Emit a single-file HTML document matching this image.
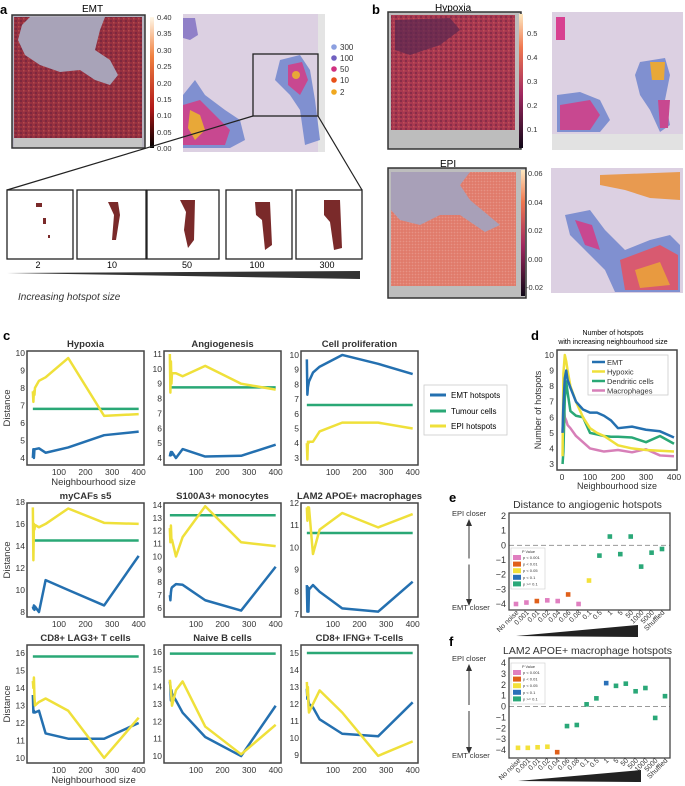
<!DOCTYPE html>
<html><head><meta charset="utf-8"><style>
html,body{margin:0;padding:0;background:#fff;}
svg{display:block;font-family:"Liberation Sans",Arial,sans-serif;}
</style></head><body>
<svg id="fig" width="685" height="786" viewBox="0 0 685 786" xmlns="http://www.w3.org/2000/svg">
<defs>
<pattern id="spots" width="3" height="3" patternUnits="userSpaceOnUse"><circle cx="1.5" cy="1.5" r="0.9" fill="#fff" opacity="0.18"/></pattern>
<pattern id="dk" width="5" height="4" patternUnits="userSpaceOnUse"><rect x="0" y="0" width="2" height="2" fill="#4a1a3a" opacity="0.35"/><rect x="3" y="2" width="1.5" height="1.5" fill="#f08060" opacity="0.35"/></pattern>
<linearGradient id="cbA" x1="0" y1="1" x2="0" y2="0"><stop offset="0" stop-color="#000"/><stop offset="0.3" stop-color="#b01818"/><stop offset="0.7" stop-color="#f08040"/><stop offset="1" stop-color="#fff8e8"/></linearGradient>
<linearGradient id="cbB" x1="0" y1="1" x2="0" y2="0"><stop offset="0" stop-color="#100818"/><stop offset="0.4" stop-color="#a02860"/><stop offset="0.75" stop-color="#f07850"/><stop offset="1" stop-color="#fde8c0"/></linearGradient>
</defs>

<!-- Panel a -->
<text x="0" y="14" font-size="13" font-weight="bold">a</text>
<text x="82" y="12" font-size="10">EMT</text>
<g>
<rect x="12" y="15" width="133" height="133" fill="#b7b4c0"/>
<rect x="14" y="17" width="128" height="121" fill="#963040"/>
<rect x="14" y="17" width="128" height="121" fill="url(#dk)"/>
<path d="M30 17 L105 17 L100 30 L95 50 L110 60 L118 75 L110 85 L95 80 L80 70 L60 72 L40 65 L25 55 L18 40 L22 25 Z" fill="#a8a3b8"/>
<rect x="14" y="138" width="128" height="10" fill="#c4c4c4"/>
<rect x="12" y="15" width="133" height="133" fill="none" stroke="#333" stroke-width="1.5"/>
</g>
<rect x="150" y="17" width="4" height="131" fill="url(#cbA)"/>
<g font-size="7.5" fill="#333">
<text x="157" y="20">0.40</text><text x="157" y="36">0.35</text><text x="157" y="53">0.30</text><text x="157" y="69">0.25</text><text x="157" y="86">0.20</text><text x="157" y="102">0.15</text><text x="157" y="118">0.10</text><text x="157" y="135">0.05</text><text x="157" y="151">0.00</text>
</g>
<g>
<rect x="183" y="14" width="142" height="138" fill="#dcd0e2"/>
<rect x="318" y="14" width="7" height="138" fill="#e4e4e4"/>
<path d="M183 95 L195 80 L205 95 L225 110 L240 120 L245 140 L230 148 L183 148 Z" fill="#8090d0"/>
<path d="M183 105 L200 100 L215 115 L230 130 L225 145 L183 145 Z" fill="#c84890"/>
<path d="M190 110 L200 115 L205 130 L195 140 L188 128 Z" fill="#e8a838"/>
<path d="M280 60 L300 55 L310 70 L315 100 L320 140 L305 145 L300 110 L290 95 L275 80 Z" fill="#8090d0"/>
<path d="M288 65 L302 62 L308 80 L300 95 L288 85 Z" fill="#c84890"/>
<circle cx="296" cy="75" r="4" fill="#e8a838"/>
<path d="M183 18 L195 18 L198 35 L190 40 L183 38 Z" fill="#9080c8"/>
</g>
<g font-size="8" fill="#333">
<circle cx="334" cy="47" r="2.8" fill="#8ca0e0"/><text x="340" y="50">300</text>
<circle cx="334" cy="58" r="2.8" fill="#7060c0"/><text x="340" y="61">100</text>
<circle cx="334" cy="69" r="2.8" fill="#d03080"/><text x="340" y="72">50</text>
<circle cx="334" cy="80" r="2.8" fill="#e85018"/><text x="340" y="83">10</text>
<circle cx="334" cy="92" r="2.8" fill="#f0a820"/><text x="340" y="95">2</text>
</g>
<rect x="253" y="54" width="65" height="62" fill="none" stroke="#222" stroke-width="1.3"/>
<line x1="253" y1="116" x2="7" y2="190" stroke="#222" stroke-width="1.2"/>
<line x1="318" y1="116" x2="362" y2="190" stroke="#222" stroke-width="1.2"/>
<g fill="#fff" stroke="#222" stroke-width="1.3">
<rect x="7" y="190" width="66" height="69"/><rect x="77" y="190" width="69" height="69"/><rect x="147" y="190" width="72" height="69"/><rect x="226" y="190" width="66" height="69"/><rect x="296" y="190" width="66" height="69"/>
</g>
<g fill="#7a2a2a">
<rect x="36" y="203" width="6" height="4"/><rect x="43" y="218" width="3" height="6"/><rect x="48" y="235" width="2" height="3"/>
<path d="M108 202 L118 202 L120 215 L116 240 L112 240 L114 215 Z"/>
<path d="M180 200 L195 200 L194 240 L188 248 L184 230 L186 212 Z"/>
<path d="M255 202 L270 202 L272 245 L265 250 L262 220 L256 215 Z"/>
<path d="M324 200 L340 200 L342 248 L334 250 L330 222 L324 215 Z"/>
</g>
<g font-size="9" text-anchor="middle">
<text x="38" y="268">2</text><text x="112" y="268">10</text><text x="187" y="268">50</text><text x="257" y="268">100</text><text x="327" y="268">300</text>
</g>
<path d="M7 273 L360 271 L360 279 Z" fill="#333"/>
<text x="18" y="300" font-size="10" font-style="italic" fill="#333">Increasing hotspot size</text>

<!-- Panel b -->
<text x="372" y="14" font-size="13" font-weight="bold">b</text>
<text x="435" y="11" font-size="10">Hypoxia</text>
<g>
<rect x="388" y="12" width="133" height="137" fill="#bdbdbd"/>
<rect x="391" y="15" width="124" height="115" fill="#a83850"/>
<rect x="391" y="15" width="124" height="115" fill="url(#dk)"/>
<path d="M395 20 L450 18 L460 30 L440 45 L410 55 L395 50 Z" fill="#5a2850" opacity="0.7"/>
<rect x="388" y="12" width="133" height="137" fill="none" stroke="#333" stroke-width="1.5"/>
</g>
<rect x="519" y="14" width="4" height="134" fill="url(#cbB)"/>
<g font-size="7.5" fill="#333">
<text x="527" y="36">0.5</text><text x="527" y="60">0.4</text><text x="527" y="84">0.3</text><text x="527" y="108">0.2</text><text x="527" y="132">0.1</text>
</g>
<g>
<rect x="552" y="12" width="131" height="138" fill="#dcd0e2"/>
<rect x="552" y="134" width="131" height="16" fill="#e2e2e2"/>
<path d="M557 95 L580 92 L600 100 L610 120 L600 132 L557 132 Z" fill="#8090d0"/>
<path d="M560 105 L590 100 L600 115 L590 130 L560 130 Z" fill="#c84890"/>
<path d="M640 62 L665 58 L670 75 L665 100 L670 125 L660 132 L650 110 L640 95 L635 75 Z" fill="#8090d0"/>
<path d="M650 62 L665 62 L664 80 L652 80 Z" fill="#e8a838"/>
<path d="M658 100 L670 100 L668 128 L660 128 Z" fill="#c84890"/>
<path d="M556 17 L565 17 L565 40 L556 40 Z" fill="#d84090"/>
</g>
<text x="440" y="167" font-size="10">EPI</text>
<g>
<rect x="388" y="168" width="138" height="130" fill="#bdbdbd"/>
<rect x="391" y="172" width="125" height="114" fill="#e07a6a"/>
<rect x="391" y="172" width="125" height="114" fill="url(#spots)"/>
<path d="M391 172 L470 172 L460 185 L470 200 L500 225 L485 232 L460 215 L440 215 L420 225 L400 220 L391 210 Z" fill="#a8a0b8"/>
<rect x="388" y="168" width="138" height="130" fill="none" stroke="#333" stroke-width="1.5"/>
</g>
<rect x="521" y="170" width="4" height="126" fill="url(#cbB)"/>
<g font-size="7.5" fill="#333">
<text x="528" y="176">0.06</text><text x="528" y="205">0.04</text><text x="528" y="233">0.02</text><text x="528" y="262">0.00</text><text x="526" y="290">-0.02</text>
</g>
<g>
<rect x="551" y="168" width="132" height="125" fill="#dcd0e2"/>
<path d="M600 175 L680 172 L680 200 L650 198 L625 190 L600 185 Z" fill="#e89a50"/>
<path d="M565 215 L590 210 L605 230 L625 250 L650 240 L670 235 L680 245 L680 292 L615 292 L605 270 L585 250 L570 235 Z" fill="#8090d0"/>
<path d="M575 220 L592 225 L600 250 L585 245 Z" fill="#c84890"/>
<path d="M620 260 L660 245 L678 255 L678 290 L625 290 Z" fill="#d85a70"/>
<path d="M635 270 L660 262 L670 285 L640 288 Z" fill="#e89a40"/>
</g>

<!-- Panel c text & legend -->
<text x="3" y="340" font-size="13" font-weight="bold">c</text>
<g>
<rect x="424" y="385" width="83" height="50" fill="#fff" stroke="#ccc" stroke-width="0.8"/>
<line x1="430" y1="395" x2="446" y2="395" stroke="#2470b0" stroke-width="3"/><text x="451" y="398" font-size="8">EMT hotspots</text>
<line x1="430" y1="411" x2="446" y2="411" stroke="#2aa876" stroke-width="3"/><text x="451" y="414" font-size="8">Tumour cells</text>
<line x1="430" y1="426" x2="446" y2="426" stroke="#efe03a" stroke-width="3"/><text x="451" y="429" font-size="8">EPI hotspots</text>
</g>

<!-- Panel d static -->
<text x="531" y="340" font-size="13" font-weight="bold">d</text>
<text x="613" y="335" font-size="7" text-anchor="middle">Number of hotspots</text>
<text x="613" y="344" font-size="7" text-anchor="middle">with increasing neighbourhood size</text>

<text x="449" y="502" font-size="13" font-weight="bold">e</text>
<text x="449" y="646" font-size="13" font-weight="bold">f</text>
<g id="root"></g>
</svg>
<script>
// ---------- Panel c data ----------
const nbhSizes = [2, 4, 6, 8, 10, 25, 50, 135, 270, 400];
const cTitles = ["Hypoxia","Angiogenesis","Cell proliferation","myCAFs s5","S100A3+ monocytes","LAM2 APOE+ macrophages","CD8+ LAG3+ T cells","Naive B cells","CD8+ IFNG+ T-cells"];
const emtHotspots = [
 [4.0,4.5,4.0,4.5,4.5,4.55,4.3,4.6,5.3,5.5],
 [4.1,4.3,4.4,4.2,4.4,4.0,4.6,4.1,4.15,4.9],
 [9.7,7.3,7.8,8.0,8.2,8.8,9.2,10.0,9.4,8.7],
 [8.5,8.3,8.6,8.2,8.5,8.0,10.9,10.0,8.6,13.1],
 [7.0,6.6,7.2,7.5,7.6,7.85,7.8,6.6,5.8,9.2],
 [8.3,7.1,8.2,7.1,8.1,8.3,8.0,7.25,7.1,8.45],
 [13.6,12.6,12.7,12.6,12.6,12.7,11.4,11.1,11.1,12.0],
 [14.3,14.0,13.2,13.8,13.6,13.2,12.5,11.1,10.0,12.9],
 [12.9,12.3,12.6,12.2,12.0,11.8,11.1,10.25,10.1,12.1]
];
const epiHotspots = [
 [7.8,7.2,7.8,7.6,8.0,8.4,8.6,9.7,6.4,6.5],
 [11.0,8.4,10.5,9.0,9.7,9.7,9.5,10.2,9.0,8.6],
 [4.0,2.9,4.1,4.0,4.1,4.1,4.8,5.4,5.4,5.0],
 [17.5,12.7,16.0,15.5,15.9,15.7,16.0,17.4,16.1,16.0],
 [12.2,11.1,12.4,11.2,11.3,10.0,11.5,13.9,11.1,10.8],
 [11.8,11.2,11.8,11.5,11.8,9.7,10.8,11.55,10.9,11.5],
 [14.4,14.0,14.6,13.5,13.0,13.2,13.4,12.7,10.0,12.3],
 [14.4,14.1,13.8,13.4,12.9,13.8,14.3,11.7,10.1,11.8],
 [13.3,12.5,13.0,11.9,11.5,12.0,12.8,11.5,8.95,9.8]
];
const tumourCells = [6.8,8.75,6.6,14.5,13.2,10.65,15.8,15.9,15.0];
const cYMin = [3.6,3.53,2.52,7.55,5.3,6.86,9.71,9.6,8.53];
const cYMax = [10.1,11.2,10.27,17.9,14.15,12.0,16.46,16.4,15.47];
const cYTicks = [[4,5,6,7,8,9,10],[4,5,6,7,8,9,10,11],[3,4,5,6,7,8,9,10],[8,10,12,14,16,18],[6,7,8,9,10,11,12,13,14],[7,8,9,10,11,12],[10,11,12,13,14,15,16],[10,11,12,13,14,15,16],[9,10,11,12,13,14,15]];
const cXTicks = [100,200,300,400];

// ---------- Panel d data ----------
const dSizes = [2,5,10,15,20,30,50,75,100,125,150,175,200,250,300,350,400];
const dSeriesNames = ["EMT","Hypoxic","Dendritic cells","Macrophages"];
const dEMT = [5.0,6.8,8.5,9.0,8.4,7.9,7.0,6.5,6.3,6.3,6.1,5.8,5.3,5.4,5.2,5.1,4.7];
const dHypoxic = [3.5,8.8,10.0,9.6,9.0,8.0,7.0,6.0,5.3,5.0,4.8,4.5,4.2,4.0,3.9,3.85,3.8];
const dDendritic = [3.0,3.8,7.2,8.3,7.6,6.4,6.1,6.0,5.0,4.9,4.8,4.75,4.75,4.7,4.4,4.8,4.3];
const dMacrophages = [5.0,6.9,6.0,5.8,5.5,5.3,4.8,4.4,4.0,3.9,3.8,3.85,3.9,3.75,3.95,3.55,3.5];
const dYTicks = [3,4,5,6,7,8,9,10];
const dXTicks = [0,100,200,300,400];

// ---------- Panels e/f data ----------
const eCategories = ["No noise","0.001","0.01","0.02","0.04","0.06","0.08","0.1","0.5","1","5","50","1000","5000","Shuffled"];
const eValues = [-4.0,-3.9,-3.8,-3.75,-3.8,-3.35,-4.0,-2.4,-0.7,0.6,-0.6,0.6,-1.45,-0.5,-0.25];
const ePClass = [0,0,1,0,0,1,0,2,4,4,4,4,4,4,4];
const fCategories = ["No noise","0.001","0.01","0.02","0.04","0.06","0.08","0.1","0.5","1","5","50","500","1000","5000","Shuffled"];
const fValues = [-3.8,-3.8,-3.75,-3.7,-4.2,-1.8,-1.7,0.2,0.75,2.15,1.9,2.1,1.4,1.7,-1.05,0.95];
const fPClass = [2,2,2,2,1,4,4,4,4,3,4,4,4,4,4,4];
const pLabels = ["p < 0.001","p < 0.01","p < 0.05","p < 0.1","p >= 0.1"];
const eYTicks = [-4,-3,-2,-1,0,1,2];
const fYTicks = [-4,-3,-2,-1,0,1,2,3,4];

const NS = "http://www.w3.org/2000/svg";
const root = document.getElementById('root');
const BLUE="#2470b0", GREEN="#2aa876", YELLOW="#efe03a", PINK="#d77fb8";
const pColors = ["#e07fc0","#e0601a","#f3e13a","#2a70b8","#2aa878"];
function mk(tag, attrs, parent){ const e=document.createElementNS(NS,tag); for(const k in attrs) e.setAttribute(k,attrs[k]); (parent||root).appendChild(e); return e; }
function txt(x,y,s,size,parent,extra){ const t=mk('text',Object.assign({x:x,y:y,'font-size':size,fill:'#333'},extra||{}),parent); t.textContent=s; return t; }
function linear(d0,d1,r0,r1){ return v => r0 + (v-d0)/(d1-d0)*(r1-r0); }

// ---------- Panel c ----------
const colX=[27,164,301], rowY=[[351,465],[503,617],[645,763]], W=117;
for(let i=0;i<9;i++){
  const r=Math.floor(i/3), c=i%3;
  const x0=colX[c], y0=rowY[r][0], y1=rowY[r][1];
  const g=mk('g',{});
  
  
  const sx=linear(-20,420,x0,x0+W), sy=linear(cYMin[i],cYMax[i],y1,y0);
  const t=txt(x0+W/2,y0-4,cTitles[i],9.5,g,{'text-anchor':'middle','font-weight':'bold'});
  
  
  cYTicks[i].forEach(v=>{ const yl=txt(x0-2,sy(v)+3,String(v),8.5,g,{'text-anchor':'end'}); });
  cXTicks.forEach(v=>{ txt(sx(v),y1+10,String(v),8.5,g,{'text-anchor':'middle'}); });
  const clip='clipc'+i;
  const cp=mk('clipPath',{id:clip},g); mk('rect',{x:x0,y:y0,width:W,height:y1-y0},cp);
  const lg=mk('g',{'clip-path':'url(#'+clip+')'},g);
  const tl=mk('line',{x1:sx(nbhSizes[0]),x2:sx(nbhSizes[nbhSizes.length-1]),y1:sy(tumourCells[i]),y2:sy(tumourCells[i]),stroke:GREEN,'stroke-width':2.5},lg);
  
  
  const pe=mk('polyline',{points:nbhSizes.map((n,k)=>sx(n)+','+sy(emtHotspots[i][k])).join(' '),fill:'none',stroke:BLUE,'stroke-width':2.5,'stroke-linejoin':'round'},lg);
  
  
  const pp=mk('polyline',{points:nbhSizes.map((n,k)=>sx(n)+','+sy(epiHotspots[i][k])).join(' '),fill:'none',stroke:YELLOW,'stroke-width':2.5,'stroke-linejoin':'round'},lg);
  
  
  mk('rect',{x:x0,y:y0,width:W,height:y1-y0,fill:'none',stroke:'#444','stroke-width':1.5},g);
  if(c===0){ txt(10,(y0+y1)/2,'Distance',9.5,g,{'text-anchor':'middle',transform:'rotate(-90 10 '+((y0+y1)/2)+')'}); }
  if(c===0 && r!==1){ txt(x0+W/2+8,y1+20,'Neighbourhood size',9.5,g,{'text-anchor':'middle'}); }
}

// ---------- Panel d ----------
(function(){
  const x0=557,x1=677,y0=350,y1=470;
  const g=mk('g',{});
  
  
  const sx=linear(0,400,562,674), sy=linear(3,10,464,355);
  dYTicks.forEach(v=>txt(x0-3,sy(v)+3,String(v),8.5,g,{'text-anchor':'end'}));
  dXTicks.forEach(v=>txt(sx(v),y1+10,String(v),8.5,g,{'text-anchor':'middle'}));
  txt(541,410,'Number of hotspots',9,g,{'text-anchor':'middle',transform:'rotate(-90 541 410)'});
  txt(617,489,'Neighbourhood size',9,g,{'text-anchor':'middle'});
  const series=[dMacrophages,dDendritic,dHypoxic,dEMT], cols=[PINK,GREEN,YELLOW,BLUE], nm=['macrophages','dendritic-cells','hypoxic','emt'];
  series.forEach((s,j)=>{
    const p=mk('polyline',{points:dSizes.map((n,k)=>sx(n)+','+sy(s[k])).join(' '),fill:'none',stroke:cols[j],'stroke-width':2.5,'stroke-linejoin':'round'},g);
    
    
  });
  mk('rect',{x:x0,y:y0,width:x1-x0,height:y1-y0,fill:'none',stroke:'#444','stroke-width':1.5},g);
  const lg=mk('g',{},g);
  
  
  mk('rect',{x:588,y:355,width:80,height:40,fill:'#fff',stroke:'#ccc','stroke-width':0.8},lg);
  const lc=[BLUE,YELLOW,GREEN,PINK];
  dSeriesNames.forEach((n,k)=>{ const yy=362+k*9.5; mk('line',{x1:592,x2:605,y1:yy,y2:yy,stroke:lc[k],'stroke-width':2.5},lg); txt(607,yy+3,n,7.5,lg); });
})();

// ---------- Panels e,f ----------
function dotPanel(name,title,cats,vals,cls,ticks,x0,x1,y0,y1,yAt,ptX0,ptX1,titleY,triY){
  const g=mk('g',{});
  
  
  const sy=linear(yAt[0],yAt[1],yAt[2],yAt[3]);
  const sx=i=>ptX0+i*(ptX1-ptX0)/(cats.length-1);
  txt((x0+x1)/2-2,titleY,title,10.5,g,{'text-anchor':'middle'});
  ticks.forEach(v=>txt(x0-3,sy(v)+3,v<0?'\u2212'+Math.abs(v):String(v),9,g,{'text-anchor':'end'}));
  mk('line',{x1:x0,x2:x1,y1:sy(0),y2:sy(0),stroke:'#999','stroke-width':1,'stroke-dasharray':'5,3'},g);
  cats.forEach((c,i)=>{
    const lx=sx(i)+3, ly=y1+3;
    txt(lx,ly,c,7,g,{'text-anchor':'end',transform:'rotate(-45 '+lx+' '+ly+')'});
    const d=mk('rect',{x:sx(i)-2.3,y:sy(vals[i])-2.3,width:4.6,height:4.6,fill:pColors[cls[i]]},g);
    
    
  });
  mk('rect',{x:x0,y:y0,width:x1-x0,height:y1-y0,fill:'none',stroke:'#444','stroke-width':1.3},g);
  // legend
  const ly0 = name==='angiogenic-distance-chart'?548:663;
  const lg=mk('g',{},g);
  
  
  mk('rect',{x:x0+2,y:ly0,width:34,height:41,fill:'#fff',stroke:'#ccc','stroke-width':0.6},lg);
  txt(x0+13,ly0+5,'P Value',3.8,lg);
  pLabels.forEach((p,k)=>{ mk('rect',{x:x0+4,y:ly0+7+k*6.6,width:8,height:5,fill:pColors[k]},lg); txt(x0+14,ly0+11+k*6.6,p,4,lg); });
  mk('path',{d:'M'+(ptX0)+' '+(triY+11)+' L'+(ptX1-24)+' '+triY+' L'+(ptX1-24)+' '+(triY+12)+' Z',fill:'#222'},g);
  // side labels
  txt(452,y0+3,'EPI closer',7.5,g);
  txt(452,y1,'EMT closer',7.5,g);
  const mid=(y0+y1)/2;
  mk('line',{x1:469,x2:469,y1:y0+12,y2:mid-3,stroke:'#333','stroke-width':1},g);
  mk('path',{d:'M466 '+(y0+13)+' L469 '+(y0+6)+' L472 '+(y0+13)+' Z',fill:'#333'},g);
  mk('line',{x1:469,x2:469,y1:mid+3,y2:y1-10,stroke:'#333','stroke-width':1},g);
  mk('path',{d:'M466 '+(y1-11)+' L469 '+(y1-4)+' L472 '+(y1-11)+' Z',fill:'#333'},g);
}
dotPanel('angiogenic-distance-chart','Distance to angiogenic hotspots',eCategories,eValues,ePClass,eYTicks,509,670,513,610,[2,-4,516,604],516,662,508,625);
dotPanel('macrophage-distance-chart','LAM2 APOE+ macrophage hotspots',fCategories,fValues,fPClass,fYTicks,509,670,658,758,[4,-4,663,750],518,665,654,770);
</script>
</body></html>
